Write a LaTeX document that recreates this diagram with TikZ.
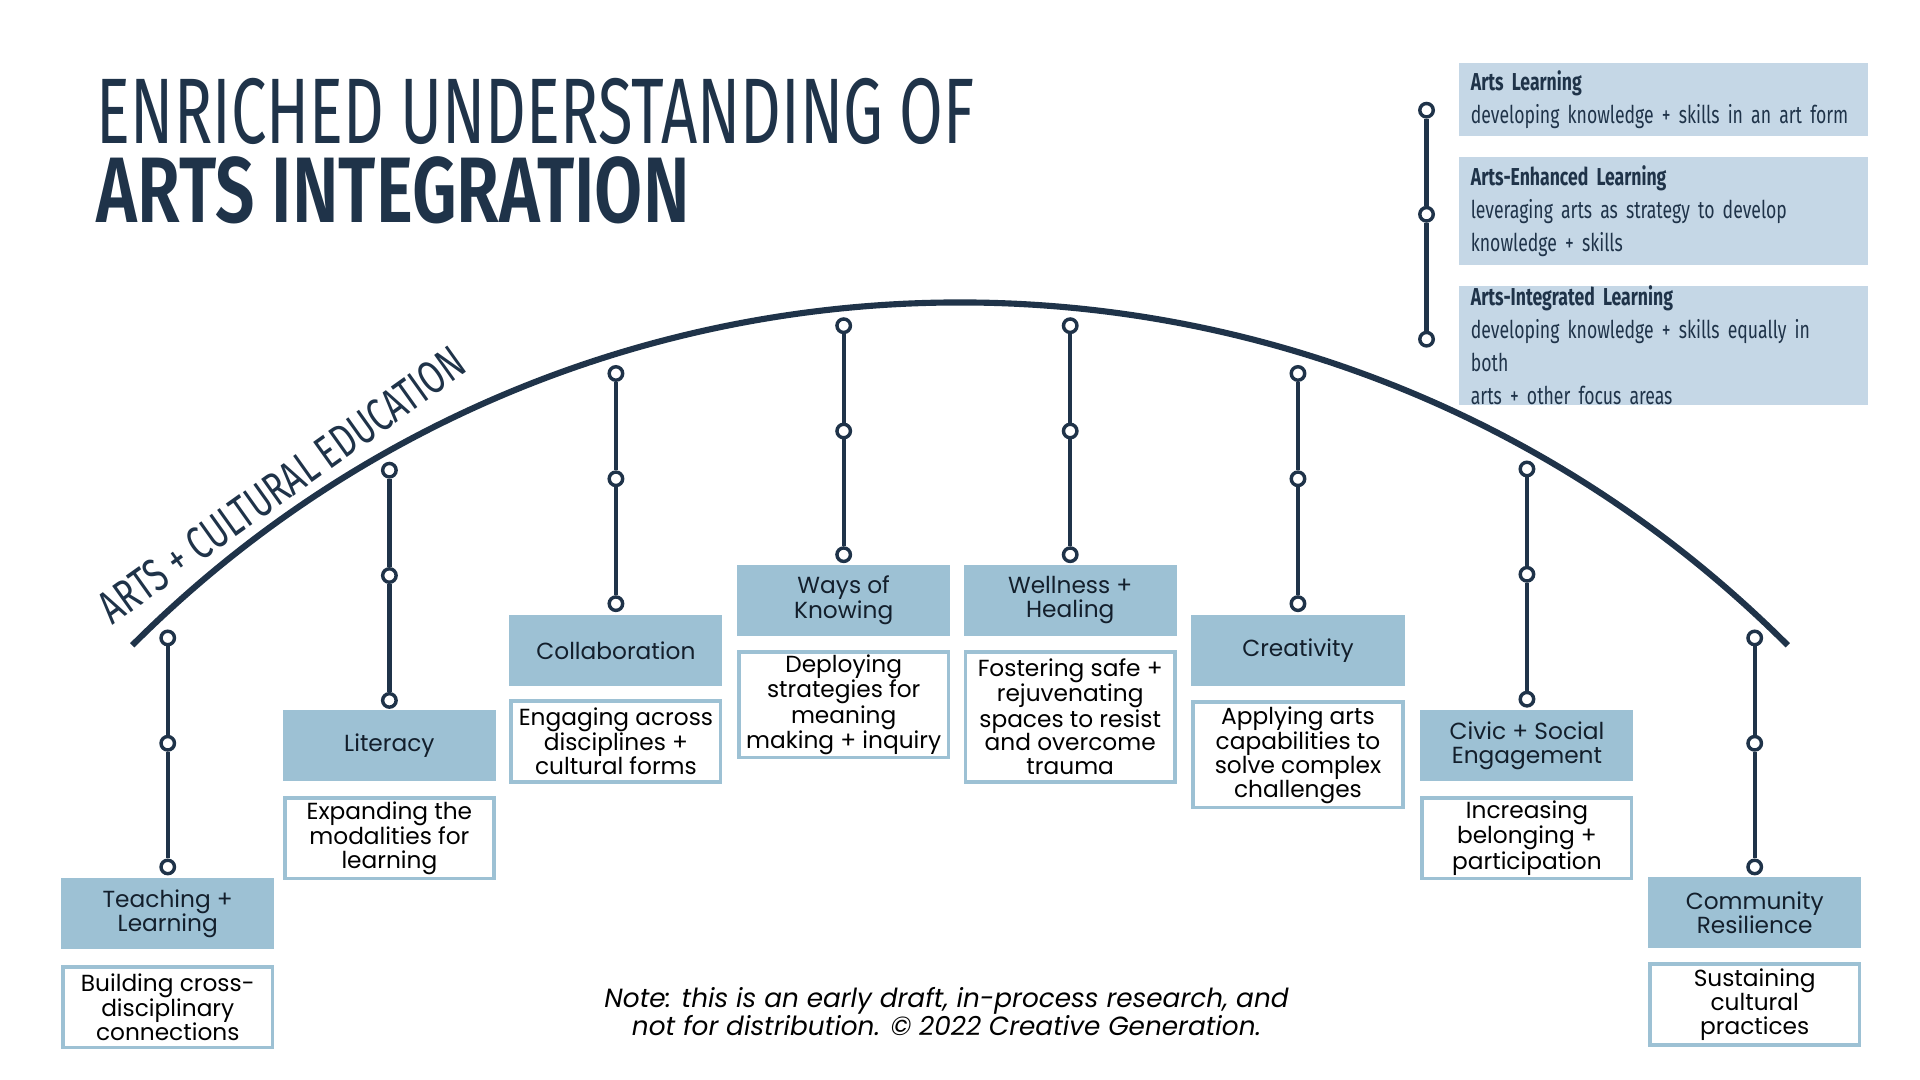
\documentclass[tikz,border=0pt]{standalone}
\usepackage{fontspec}
\setmainfont{Poppins}
\newfontfamily\cond[FakeStretch=0.72]{Fira Sans}
\newfontfamily\condb[FakeStretch=0.72]{Fira Sans Bold}
\newfontfamily\titlea[FakeStretch=0.68]{Fira Sans}
\newfontfamily\titleb[FakeStretch=0.75]{Fira Sans SemiBold}
\definecolor{navy}{HTML}{1F3349}
\definecolor{bluebox}{HTML}{9DC1D4}
\definecolor{legbox}{HTML}{C5D7E6}
\begin{document}
\begin{tikzpicture}[x=1pt,y=-1pt,
  catbox/.style={fill=bluebox,minimum width=174pt,minimum height=58pt,inner sep=0pt,align=center,font=\fontsize{19}{20}\selectfont,text=navy!60!black},
  descbox/.style={draw=bluebox,line width=3pt,fill=white,minimum width=171pt,inner sep=0pt,align=center,font=\fontsize{19}{19.5}\selectfont,text=black},
  dot/.style={circle,draw=navy,line width=2.8pt,fill=white,minimum size=11pt,inner sep=0pt},
  stem/.style={draw=navy,line width=3.5pt},
  legbx/.style={fill=legbox,minimum width=334pt,inner xsep=10pt,inner ysep=0pt,anchor=north west,text width=314pt,align=left,text=navy,font=\cond\fontsize{20}{27}\selectfont}]
\useasboundingbox (0,0) rectangle (1568,882);
\fill[white] (0,0) rectangle (1568,882);
% title
\node[anchor=base west,inner sep=0pt,text=navy,font=\titlea\fontsize{76}{76}\selectfont] (t1) at (79,117) {ENRICHED UNDERSTANDING OF};
\node[anchor=base west,inner sep=0pt,text=navy,font=\titleb\fontsize{76}{76}\selectfont] (t2) at (79,182) {ARTS INTEGRATION};
% arc
\draw[navy,line width=5pt] (108,527) arc[start angle=-135,end angle=-45,radius=956];
\node[rotate=35.5,text=navy,font=\cond\fontsize{38}{38}\selectfont,inner sep=0pt] (arcl) at (230,396) {ARTS + CULTURAL EDUCATION};
% columns
\foreach \n/\x/\ya/\yb/\yc/\bt/\wt/\wb/\cat/\desc in {
 a/137/521/607/708/717/788/854/{Teaching +\\Learning}/{Building cross-\\disciplinary\\connections},
 b/318/384/470/572/580/650/716/{Literacy}/{Expanding the\\modalities for\\learning},
 c/503/305/391/493/502/571/637/{Collaboration}/{Engaging across\\disciplines +\\cultural forms},
 d/689/266/352/453/461/531/617/{Ways of\\Knowing}/{Deploying\\strategies for\\meaning\\making + inquiry},
 e/874/266/352/453/461/531/637/{Wellness +\\Healing}/{Fostering safe +\\rejuvenating\\spaces to resist\\and overcome\\trauma},
 f/1060/305/391/493/502/572/658/{Creativity}/{Applying arts\\capabilities to\\solve complex\\challenges},
 g/1247/383/469/571/580/650/716/{Civic + Social\\Engagement}/{Increasing\\belonging +\\participation},
 h/1433/521/607/708/716/786/852/{Community\\Resilience}/{Sustaining\\cultural\\practices}}{
  \node[dot] (\n1) at (\x,\ya) {};
  \node[dot] (\n2) at (\x,\yb) {};
  \node[dot] (\n3) at (\x,\yc) {};
  \draw[stem] (\n1) -- (\n2) -- (\n3);
  \node[catbox,anchor=north] (\n c) at (\x,\bt) {\cat};
  \node[descbox,anchor=north,minimum height={(\wb-\wt)*1pt}] (\n d) at (\x,\wt) {\desc};
}
% legend
\node[dot] (l1) at (1165,90) {};
\node[dot] (l2) at (1165,175) {};
\node[dot] (l3) at (1165,277) {};
\draw[stem] (l1) -- (l2) -- (l3);
\node[legbx,minimum height=60pt] (L1) at (1191,51) {{\condb Arts Learning}\\developing knowledge + skills in an art form};
\node[legbx,minimum height=88pt] (L2) at (1191,128) {{\condb Arts-Enhanced Learning}\\leveraging arts as strategy to develop\\knowledge + skills};
\node[legbx,minimum height=88pt] (L3) at (1191,233) {{\condb Arts-Integrated Learning}\\developing knowledge + skills equally in both\\arts + other focus areas};
% note
\node[align=center,font=\itshape\fontsize{21.5}{22}\selectfont,text=black] (note) at (773,826) {Note: this is an early draft, in-process research, and\\not for distribution. \copyright\ 2022 Creative Generation.};
\end{tikzpicture}
\end{document}
